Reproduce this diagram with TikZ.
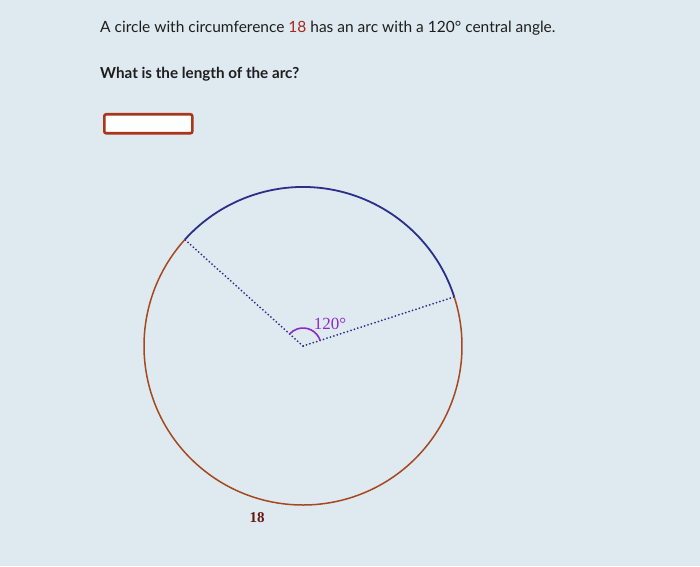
\documentclass[tikz,border=0pt]{standalone}
\usepackage{fontspec}
\usetikzlibrary{calc}
\newfontfamily\lato{Lato}
\newfontfamily\tms{Liberation Serif}
\definecolor{bg}{HTML}{DFE9F0}
\definecolor{arcblue}{HTML}{2B2F8A}
\definecolor{arcbrown}{HTML}{A5481E}
\definecolor{boxred}{HTML}{A8361A}
\definecolor{numred}{HTML}{A8281E}
\definecolor{anglepurple}{HTML}{8A2BC8}
\definecolor{txt}{HTML}{1E1E1E}
\tikzset{
  headtext/.style={anchor=west, inner sep=0pt, font=\lato\fontsize{15.5}{18}\selectfont, text=txt},
  qtext/.style={anchor=west, inner sep=0pt, font=\lato\bfseries\fontsize{15.2}{18}\selectfont, text=txt},
  answerbox/.style={draw=boxred, line width=2.6pt, rounded corners=2pt, fill=white!94!bg},
  radius line/.style={arcblue, line width=2pt, line cap=round, dash pattern=on 0pt off 3.6pt},
  labeltext/.style={inner sep=0pt, font=\tms\fontsize{17}{20}\selectfont}
}
\begin{document}
\begin{tikzpicture}[x=1pt,y=1pt]
\fill[bg] (0,0) rectangle (700,566);
\useasboundingbox (0,0) rectangle (700,566);
% header texts
\node[headtext] (head) at (100,538) {A circle with circumference \textcolor{numred}{18} has an arc with a 120° central angle.};
\node[qtext] (question) at (100,492) {What is the length of the arc?};
% answer box
\node[answerbox, minimum width=88pt, minimum height=19pt, anchor=north west] (box) at (103,453) {};
% circle
\coordinate (O) at (303,220);
\coordinate (A) at ($(O)+(18:159)$);
\coordinate (B) at ($(O)+(138:159)$);
\draw[arcblue, line width=1.8pt] (A) arc[start angle=18, end angle=138, radius=159];
\draw[arcbrown, line width=1.5pt] (B) arc[start angle=138, end angle=378, radius=159];
\draw[radius line] (O) -- (A);
\draw[radius line] (O) -- (B);
% angle mark
\draw[anglepurple, line width=1.6pt] ($(O)+(18:18)$) arc[start angle=18, end angle=138, radius=18];
\node[labeltext, text=anglepurple] (ang) at (330,242) {120°};
\node[labeltext, text=numred!60!black, font=\tms\bfseries\fontsize{15}{18}\selectfont] (circ) at (257,48) {18};
\end{tikzpicture}
\end{document}
